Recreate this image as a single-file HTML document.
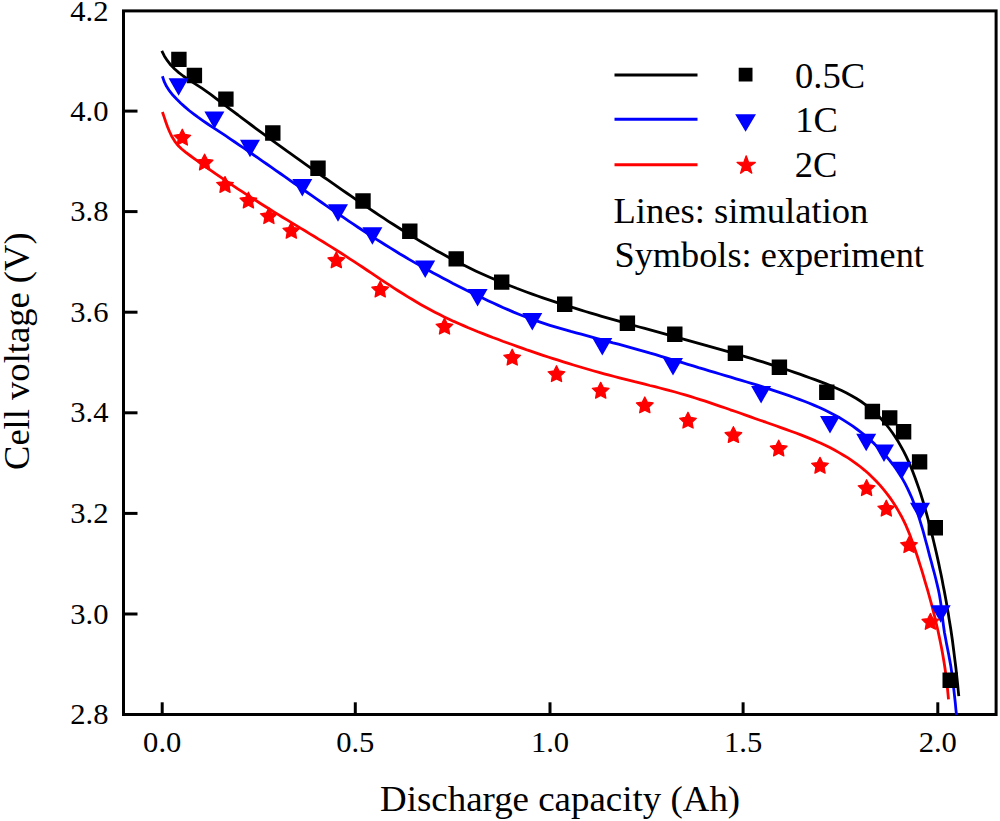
<!DOCTYPE html><html><head><meta charset="utf-8"><style>html,body{margin:0;padding:0;background:#fff;width:1000px;height:821px;overflow:hidden}svg{display:block}</style></head><body><svg width="1000" height="821" viewBox="0 0 1000 821">
<rect width="1000" height="821" fill="#fff"/>
<g font-family="Liberation Serif" fill="#000">
<text transform="translate(108.5,20.5) scale(1.055,1)" text-anchor="end" font-size="29">4.2</text>
<text transform="translate(108.5,120.7) scale(1.055,1)" text-anchor="end" font-size="29">4.0</text>
<text transform="translate(108.5,221.2) scale(1.055,1)" text-anchor="end" font-size="29">3.8</text>
<text transform="translate(108.5,321.8) scale(1.055,1)" text-anchor="end" font-size="29">3.6</text>
<text transform="translate(108.5,422.4) scale(1.055,1)" text-anchor="end" font-size="29">3.4</text>
<text transform="translate(108.5,523.0) scale(1.055,1)" text-anchor="end" font-size="29">3.2</text>
<text transform="translate(108.5,623.6) scale(1.055,1)" text-anchor="end" font-size="29">3.0</text>
<text transform="translate(108.5,724.1) scale(1.055,1)" text-anchor="end" font-size="29">2.8</text>
<text transform="translate(162.2,752.4) scale(1.055,1)" text-anchor="middle" font-size="29">0.0</text>
<text transform="translate(355.3,752.4) scale(1.055,1)" text-anchor="middle" font-size="29">0.5</text>
<text transform="translate(550.0,752.4) scale(1.055,1)" text-anchor="middle" font-size="29">1.0</text>
<text transform="translate(743.1,752.4) scale(1.055,1)" text-anchor="middle" font-size="29">1.5</text>
<text transform="translate(937.8,752.4) scale(1.055,1)" text-anchor="middle" font-size="29">2.0</text>
<text transform="translate(380.0,811.0) scale(1.055,1)" text-anchor="start" font-size="35">Discharge capacity (Ah)</text>
<text transform="translate(29,470) rotate(-90) scale(1.045,1)" font-size="35">Cell voltage (V)</text>
<text transform="translate(795.0,88.2) scale(1.045,1)" text-anchor="start" font-size="35">0.5C</text>
<text transform="translate(795.2,132.2) scale(1.045,1)" text-anchor="start" font-size="35">1C</text>
<text transform="translate(794.7,177.2) scale(1.045,1)" text-anchor="start" font-size="35">2C</text>
<text transform="translate(613.5,222.5) scale(1.045,1)" text-anchor="start" font-size="35">Lines: simulation</text>
<text transform="translate(614.5,266.6) scale(1.037,1)" text-anchor="start" font-size="35">Symbols: experiment</text>
</g>
<g stroke="#000" stroke-width="3" fill="none">
<rect x="123.5" y="10.9" width="872.6" height="703.6"/>
<line x1="123.5" y1="111.1" x2="137.5" y2="111.1"/>
<line x1="123.5" y1="211.6" x2="137.5" y2="211.6"/>
<line x1="123.5" y1="312.2" x2="137.5" y2="312.2"/>
<line x1="123.5" y1="412.8" x2="137.5" y2="412.8"/>
<line x1="123.5" y1="513.4" x2="137.5" y2="513.4"/>
<line x1="123.5" y1="614.0" x2="137.5" y2="614.0"/>
<line x1="162.2" y1="714.5" x2="162.2" y2="702.3"/>
<line x1="355.3" y1="714.5" x2="355.3" y2="702.3"/>
<line x1="550.0" y1="714.5" x2="550.0" y2="702.3"/>
<line x1="743.1" y1="714.5" x2="743.1" y2="702.3"/>
<line x1="937.8" y1="714.5" x2="937.8" y2="702.3"/>
</g>
<g stroke-width="3">
<line x1="614.5" y1="75" x2="697.5" y2="75" stroke="#000"/>
<line x1="614.5" y1="119.2" x2="697.5" y2="119.2" stroke="#00f"/>
<line x1="614.5" y1="164.8" x2="697.5" y2="164.8" stroke="#f00"/>
</g>
<g fill="none" stroke-width="2.8" stroke-linejoin="round">
<path d="M161.8 50.8 L164.3 55.9 L167.4 60.7 L170.8 65.1 L174.7 69.0 L178.8 72.6 L183.2 76.0 L187.7 79.1 L192.4 82.1 L197.1 85.1 L201.8 88.2 L206.4 91.4 L211.0 94.7 L215.5 98.1 L220.1 101.5 L224.6 104.9 L229.0 108.3 L233.5 111.7 L238.0 115.0 L242.4 118.4 L246.8 121.7 L251.3 125.0 L255.7 128.3 L260.2 131.6 L264.7 134.8 L269.1 138.1 L273.6 141.4 L278.1 144.6 L282.6 147.9 L287.1 151.2 L291.7 154.4 L296.2 157.6 L300.8 160.9 L305.3 164.1 L309.9 167.4 L314.4 170.6 L319.0 173.8 L323.6 177.0 L328.2 180.2 L332.8 183.4 L337.4 186.7 L342.0 189.9 L346.6 193.0 L351.2 196.2 L355.8 199.4 L360.4 202.6 L365.1 205.7 L369.7 208.9 L374.4 212.0 L379.0 215.1 L383.7 218.2 L388.4 221.3 L393.1 224.3 L397.8 227.3 L402.5 230.3 L407.3 233.3 L412.0 236.2 L416.8 239.1 L421.6 242.0 L426.4 244.8 L431.2 247.6 L436.0 250.4 L440.9 253.1 L445.8 255.8 L450.7 258.4 L455.6 261.0 L460.6 263.6 L465.6 266.0 L470.6 268.5 L475.6 270.9 L480.6 273.2 L485.7 275.5 L490.8 277.7 L495.9 279.9 L501.1 282.1 L506.2 284.2 L511.4 286.2 L516.6 288.3 L521.8 290.2 L527.1 292.2 L532.3 294.1 L537.6 296.0 L542.9 297.8 L548.2 299.6 L553.5 301.4 L558.8 303.1 L564.1 304.9 L569.5 306.5 L574.8 308.2 L580.2 309.9 L585.5 311.5 L590.9 313.1 L596.3 314.7 L601.7 316.3 L607.1 317.8 L612.5 319.4 L617.9 320.9 L623.3 322.4 L628.6 323.9 L634.0 325.5 L639.4 327.0 L644.8 328.4 L650.2 329.9 L655.6 331.4 L661.0 332.9 L666.4 334.4 L671.8 335.9 L677.1 337.4 L682.5 338.8 L687.9 340.3 L693.3 341.8 L698.6 343.3 L704.0 344.8 L709.4 346.3 L714.7 347.8 L720.1 349.3 L725.4 350.8 L730.8 352.4 L736.1 353.9 L741.4 355.5 L746.8 357.1 L752.1 358.7 L757.4 360.3 L762.7 361.9 L768.0 363.6 L773.3 365.3 L778.6 367.0 L783.9 368.8 L789.2 370.5 L794.5 372.4 L799.8 374.2 L805.1 376.1 L810.3 378.0 L815.6 379.9 L820.9 381.9 L826.1 383.9 L831.3 386.0 L836.5 388.2 L841.6 390.5 L846.6 393.0 L851.6 395.7 L856.4 398.5 L861.1 401.5 L865.7 404.8 L870.1 408.3 L874.3 412.0 L878.4 415.9 L882.2 420.0 L885.9 424.2 L889.3 428.5 L892.6 433.0 L895.6 437.5 L898.5 442.1 L901.2 446.9 L903.8 451.7 L906.3 456.6 L908.6 461.6 L910.8 466.7 L912.8 471.8 L914.8 477.0 L916.7 482.3 L918.6 487.6 L920.4 492.9 L922.1 498.3 L923.7 503.7 L925.3 509.1 L926.8 514.6 L928.3 520.1 L929.7 525.6 L931.1 531.1 L932.5 536.6 L933.8 542.0 L935.1 547.5 L936.4 553.0 L937.6 558.4 L938.8 563.9 L939.9 569.3 L941.1 574.8 L942.2 580.2 L943.2 585.7 L944.3 591.1 L945.3 596.5 L946.3 602.0 L947.2 607.4 L948.2 612.9 L949.0 618.4 L949.9 623.8 L950.8 629.3 L951.6 634.8 L952.4 640.3 L953.1 645.8 L953.8 651.3 L954.5 656.9 L955.2 662.4 L955.9 668.0 L956.5 673.6 L957.1 679.2 L957.7 684.8 L958.2 690.5 L958.8 696.2" stroke="#000"/>
<path d="M162.4 76.2 L164.1 81.4 L166.5 86.3 L169.5 90.9 L173.0 95.3 L176.8 99.3 L180.8 103.2 L184.9 106.9 L189.1 110.5 L193.5 113.9 L197.9 117.2 L202.4 120.3 L207.0 123.5 L211.6 126.6 L216.3 129.6 L220.9 132.7 L225.5 135.7 L230.1 138.8 L234.8 142.0 L239.3 145.1 L243.9 148.2 L248.5 151.4 L253.0 154.5 L257.6 157.7 L262.1 160.8 L266.7 164.0 L271.2 167.1 L275.7 170.3 L280.3 173.5 L284.8 176.6 L289.3 179.8 L293.8 183.0 L298.4 186.2 L302.9 189.3 L307.4 192.5 L311.9 195.7 L316.5 198.9 L321.0 202.0 L325.5 205.2 L330.1 208.3 L334.7 211.5 L339.2 214.6 L343.8 217.7 L348.4 220.8 L353.0 223.9 L357.6 227.0 L362.2 230.0 L366.8 233.1 L371.4 236.1 L376.1 239.1 L380.8 242.0 L385.5 245.0 L390.2 247.9 L394.9 250.8 L399.6 253.7 L404.4 256.5 L409.1 259.4 L413.9 262.1 L418.8 264.9 L423.6 267.6 L428.5 270.3 L433.3 273.0 L438.2 275.6 L443.1 278.2 L448.1 280.8 L453.0 283.4 L458.0 285.9 L463.0 288.5 L468.0 291.0 L473.0 293.4 L478.0 295.9 L483.1 298.3 L488.1 300.7 L493.2 303.1 L498.3 305.4 L503.4 307.7 L508.5 309.9 L513.6 312.1 L518.8 314.2 L523.9 316.2 L529.1 318.2 L534.3 320.1 L539.5 321.9 L544.7 323.6 L549.9 325.3 L555.1 326.9 L560.3 328.4 L565.6 329.9 L570.8 331.4 L576.1 332.8 L581.3 334.2 L586.6 335.6 L591.9 337.1 L597.2 338.5 L602.4 339.9 L607.7 341.3 L613.0 342.8 L618.4 344.2 L623.7 345.6 L629.0 347.1 L634.3 348.6 L639.6 350.1 L645.0 351.6 L650.3 353.2 L655.7 354.7 L661.0 356.3 L666.3 357.9 L671.7 359.5 L677.1 361.1 L682.4 362.7 L687.8 364.3 L693.2 365.9 L698.5 367.6 L703.9 369.2 L709.3 370.8 L714.7 372.4 L720.0 374.0 L725.4 375.6 L730.8 377.2 L736.1 378.8 L741.5 380.4 L746.8 382.0 L752.2 383.6 L757.5 385.2 L762.8 386.9 L768.1 388.6 L773.3 390.3 L778.6 392.1 L783.8 393.8 L789.0 395.6 L794.1 397.5 L799.2 399.4 L804.3 401.3 L809.4 403.3 L814.4 405.4 L819.4 407.5 L824.3 409.8 L829.2 412.2 L834.0 414.7 L838.8 417.3 L843.5 420.1 L848.2 423.1 L852.8 426.2 L857.3 429.5 L861.8 432.9 L866.1 436.4 L870.4 440.1 L874.5 443.9 L878.5 447.9 L882.3 451.9 L886.1 456.1 L889.7 460.4 L893.1 464.8 L896.3 469.3 L899.4 473.9 L902.3 478.6 L905.0 483.4 L907.5 488.3 L909.8 493.3 L912.0 498.3 L914.0 503.4 L916.0 508.6 L917.8 513.8 L919.5 519.1 L921.1 524.4 L922.7 529.7 L924.2 535.1 L925.6 540.5 L927.1 545.9 L928.5 551.3 L929.9 556.8 L931.4 562.2 L932.8 567.6 L934.3 573.0 L935.7 578.5 L937.0 583.9 L938.3 589.3 L939.4 594.7 L940.3 600.1 L941.1 605.6 L941.7 611.0 L942.4 616.4 L943.0 621.8 L943.7 627.3 L944.5 632.7 L945.5 638.1 L946.5 643.6 L947.6 649.0 L948.7 654.5 L949.7 659.9 L950.7 665.4 L951.5 670.9 L952.3 676.4 L953.0 681.9 L953.6 687.4 L954.2 692.9 L954.8 698.4 L955.4 703.9 L955.9 709.5 L956.5 715.1" stroke="#00f"/>
<path d="M162.4 112.0 L164.1 116.9 L165.8 122.0 L167.6 127.0 L169.7 132.0 L172.0 136.8 L174.8 141.3 L178.0 145.4 L181.7 149.0 L185.8 152.4 L190.0 155.5 L194.2 158.6 L198.5 161.7 L202.8 164.8 L207.1 167.8 L211.5 170.9 L215.8 173.9 L220.2 176.9 L224.6 179.9 L229.0 182.9 L233.4 185.8 L237.8 188.8 L242.2 191.7 L246.7 194.6 L251.1 197.5 L255.6 200.3 L260.1 203.2 L264.5 206.0 L269.0 208.8 L273.5 211.6 L278.0 214.4 L282.5 217.2 L287.0 219.9 L291.5 222.6 L296.0 225.4 L300.5 228.1 L305.0 230.8 L309.5 233.6 L314.0 236.3 L318.5 239.1 L323.0 241.8 L327.5 244.6 L332.0 247.4 L336.5 250.2 L340.9 253.0 L345.4 255.9 L349.8 258.8 L354.2 261.7 L358.7 264.6 L363.1 267.5 L367.5 270.5 L371.9 273.4 L376.3 276.4 L380.7 279.3 L385.2 282.3 L389.6 285.2 L394.0 288.1 L398.5 291.0 L403.0 293.8 L407.5 296.6 L412.0 299.3 L416.5 302.0 L421.1 304.7 L425.7 307.3 L430.3 309.8 L434.9 312.2 L439.6 314.6 L444.3 316.9 L449.1 319.2 L453.8 321.4 L458.6 323.5 L463.5 325.6 L468.3 327.7 L473.2 329.7 L478.0 331.7 L482.9 333.6 L487.9 335.6 L492.8 337.5 L497.8 339.3 L502.7 341.2 L507.7 343.0 L512.7 344.8 L517.7 346.6 L522.8 348.4 L527.8 350.2 L532.9 351.9 L537.9 353.6 L543.0 355.3 L548.1 357.0 L553.1 358.6 L558.2 360.2 L563.3 361.8 L568.4 363.4 L573.5 365.0 L578.6 366.5 L583.7 368.0 L588.8 369.5 L593.9 371.0 L599.0 372.4 L604.1 373.8 L609.2 375.2 L614.3 376.5 L619.4 377.9 L624.5 379.2 L629.6 380.4 L634.6 381.7 L639.7 382.9 L644.8 384.2 L649.8 385.5 L654.9 386.7 L659.9 388.0 L665.0 389.3 L670.0 390.7 L675.1 392.0 L680.1 393.5 L685.1 394.9 L690.2 396.4 L695.2 398.0 L700.2 399.6 L705.3 401.2 L710.3 402.9 L715.3 404.6 L720.4 406.3 L725.4 408.0 L730.4 409.8 L735.5 411.5 L740.5 413.3 L745.6 415.1 L750.6 416.9 L755.6 418.7 L760.7 420.5 L765.8 422.2 L770.8 424.0 L775.9 425.8 L780.9 427.6 L785.9 429.4 L791.0 431.2 L796.0 433.0 L800.9 434.9 L805.9 436.9 L810.8 438.9 L815.6 440.9 L820.4 443.1 L825.2 445.3 L829.9 447.6 L834.5 450.0 L839.1 452.6 L843.5 455.2 L848.0 457.9 L852.3 460.8 L856.5 463.8 L860.7 467.0 L864.7 470.3 L868.7 473.8 L872.5 477.4 L876.3 481.2 L879.9 485.1 L883.3 489.2 L886.7 493.3 L889.9 497.6 L892.9 502.0 L895.8 506.5 L898.5 511.1 L901.1 515.7 L903.5 520.4 L905.8 525.2 L907.9 530.1 L909.9 535.0 L911.7 540.0 L913.5 544.9 L915.2 550.0 L916.9 555.0 L918.5 560.0 L920.1 565.1 L921.7 570.1 L923.2 575.2 L924.7 580.3 L926.2 585.3 L927.7 590.4 L929.1 595.5 L930.5 600.6 L931.9 605.7 L933.2 610.8 L934.5 615.9 L935.7 621.1 L936.9 626.2 L938.1 631.3 L939.2 636.5 L940.3 641.7 L941.3 646.8 L942.3 652.0 L943.2 657.2 L944.1 662.5 L944.9 667.7 L945.6 672.9 L946.3 678.2 L947.0 683.5 L947.5 688.8 L948.0 694.1 L948.5 699.4" stroke="#f00"/>
</g>
<path fill="#000" d="M171.2 51.7h15.4v15.4h-15.4ZM186.7 67.8h15.4v15.4h-15.4ZM218.2 91.4h15.4v15.4h-15.4ZM265.1 125.3h15.4v15.4h-15.4ZM310.3 160.6h15.4v15.4h-15.4ZM355.3 193.3h15.4v15.4h-15.4ZM402.1 223.5h15.4v15.4h-15.4ZM448.5 251.2h15.4v15.4h-15.4ZM494.0 274.4h15.4v15.4h-15.4ZM557.0 296.5h15.4v15.4h-15.4ZM619.7 315.6h15.4v15.4h-15.4ZM667.1 326.6h15.4v15.4h-15.4ZM727.7 345.6h15.4v15.4h-15.4ZM771.7 359.6h15.4v15.4h-15.4ZM819.1 384.6h15.4v15.4h-15.4ZM864.7 403.8h15.4v15.4h-15.4ZM882.0 410.2h15.4v15.4h-15.4ZM895.9 424.1h15.4v15.4h-15.4ZM911.9 454.2h15.4v15.4h-15.4ZM927.6 520.1h15.4v15.4h-15.4ZM942.5 672.5h15.4v15.4h-15.4ZM738.7 67.7h13.8v13.8h-13.8Z"/>
<path fill="#00f" d="M168.6 78.3 L188.6 78.3 L178.6 95.8 ZM204.4 111.5 L224.4 111.5 L214.4 128.9 ZM240.0 139.8 L260.0 139.8 L250.0 157.2 ZM292.3 178.9 L312.3 178.9 L302.3 196.4 ZM328.0 204.2 L348.0 204.2 L338.0 221.8 ZM362.4 227.3 L382.4 227.3 L372.4 244.8 ZM415.2 260.4 L435.2 260.4 L425.2 277.9 ZM467.6 288.9 L487.6 288.9 L477.6 306.4 ZM522.3 312.9 L542.3 312.9 L532.3 330.4 ZM592.3 338.1 L612.3 338.1 L602.3 355.6 ZM663.0 357.9 L683.0 357.9 L673.0 375.4 ZM751.1 385.9 L771.1 385.9 L761.1 403.4 ZM820.0 415.9 L840.0 415.9 L830.0 433.4 ZM856.2 433.8 L876.2 433.8 L866.2 451.2 ZM874.0 444.6 L894.0 444.6 L884.0 462.1 ZM891.7 461.8 L911.7 461.8 L901.7 479.2 ZM910.0 502.8 L930.0 502.8 L920.0 520.2 ZM930.7 605.2 L950.7 605.2 L940.7 622.8 ZM735.2 114.2 L756.0 114.2 L745.6 131.8 Z"/>
<path fill="#f00" stroke="#f00" stroke-width="1.3" stroke-linejoin="round" d="M182.3 129.3 L184.9 134.5 L190.6 135.3 L186.4 139.3 L187.4 145.0 L182.3 142.3 L177.2 145.0 L178.2 139.3 L174.0 135.3 L179.7 134.5ZM204.6 154.2 L207.2 159.4 L212.9 160.2 L208.7 164.2 L209.7 169.9 L204.6 167.2 L199.5 169.9 L200.5 164.2 L196.3 160.2 L202.0 159.4ZM225.0 176.6 L227.6 181.8 L233.3 182.6 L229.1 186.6 L230.1 192.3 L225.0 189.7 L219.9 192.3 L220.9 186.6 L216.7 182.6 L222.4 181.8ZM248.4 192.2 L251.0 197.4 L256.7 198.2 L252.5 202.2 L253.5 207.9 L248.4 205.2 L243.3 207.9 L244.3 202.2 L240.1 198.2 L245.8 197.4ZM268.9 207.8 L271.5 213.0 L277.2 213.8 L273.0 217.8 L274.0 223.5 L268.9 220.8 L263.8 223.5 L264.8 217.8 L260.6 213.8 L266.3 213.0ZM291.3 222.4 L293.9 227.6 L299.6 228.4 L295.4 232.4 L296.4 238.1 L291.3 235.4 L286.2 238.1 L287.2 232.4 L283.0 228.4 L288.7 227.6ZM336.3 252.0 L338.9 257.2 L344.6 258.0 L340.4 262.0 L341.4 267.7 L336.3 265.1 L331.2 267.7 L332.2 262.0 L328.0 258.0 L333.7 257.2ZM380.2 281.2 L382.8 286.4 L388.5 287.2 L384.3 291.2 L385.3 296.9 L380.2 294.2 L375.1 296.9 L376.1 291.2 L371.9 287.2 L377.6 286.4ZM444.5 318.3 L447.1 323.5 L452.8 324.3 L448.6 328.3 L449.6 334.0 L444.5 331.4 L439.4 334.0 L440.4 328.3 L436.2 324.3 L441.9 323.5ZM512.2 349.3 L514.8 354.5 L520.5 355.3 L516.3 359.3 L517.3 365.0 L512.2 362.4 L507.1 365.0 L508.1 359.3 L503.9 355.3 L509.6 354.5ZM556.5 365.8 L559.1 371.0 L564.8 371.8 L560.6 375.8 L561.6 381.5 L556.5 378.9 L551.4 381.5 L552.4 375.8 L548.2 371.8 L553.9 371.0ZM600.7 382.4 L603.3 387.6 L609.0 388.4 L604.8 392.4 L605.8 398.1 L600.7 395.5 L595.6 398.1 L596.6 392.4 L592.4 388.4 L598.1 387.6ZM644.8 397.0 L647.4 402.2 L653.1 403.0 L648.9 407.0 L649.9 412.7 L644.8 410.1 L639.7 412.7 L640.7 407.0 L636.5 403.0 L642.2 402.2ZM688.0 412.3 L690.6 417.5 L696.3 418.3 L692.1 422.3 L693.1 428.0 L688.0 425.4 L682.9 428.0 L683.9 422.3 L679.7 418.3 L685.4 417.5ZM733.4 426.7 L736.0 431.9 L741.7 432.7 L737.5 436.7 L738.5 442.4 L733.4 439.8 L728.3 442.4 L729.3 436.7 L725.1 432.7 L730.8 431.9ZM778.7 440.2 L781.3 445.4 L787.0 446.2 L782.8 450.2 L783.8 455.9 L778.7 453.2 L773.6 455.9 L774.6 450.2 L770.4 446.2 L776.1 445.4ZM820.0 457.4 L822.6 462.6 L828.3 463.4 L824.1 467.4 L825.1 473.1 L820.0 470.5 L814.9 473.1 L815.9 467.4 L811.7 463.4 L817.4 462.6ZM866.6 479.8 L869.2 485.0 L874.9 485.8 L870.7 489.8 L871.7 495.5 L866.6 492.9 L861.5 495.5 L862.5 489.8 L858.3 485.8 L864.0 485.0ZM886.3 500.3 L888.9 505.5 L894.6 506.3 L890.4 510.3 L891.4 516.0 L886.3 513.4 L881.2 516.0 L882.2 510.3 L878.0 506.3 L883.7 505.5ZM909.0 536.8 L911.6 542.0 L917.3 542.8 L913.1 546.8 L914.1 552.5 L909.0 549.9 L903.9 552.5 L904.9 546.8 L900.7 542.8 L906.4 542.0ZM930.4 613.5 L933.0 618.7 L938.7 619.5 L934.5 623.5 L935.5 629.2 L930.4 626.6 L925.3 629.2 L926.3 623.5 L922.1 619.5 L927.8 618.7ZM746.2 155.8 L748.5 162.2 L755.3 162.4 L749.9 166.6 L751.8 173.2 L746.2 169.3 L740.6 173.2 L742.5 166.6 L737.1 162.4 L743.9 162.2Z"/>
</svg></body></html>
